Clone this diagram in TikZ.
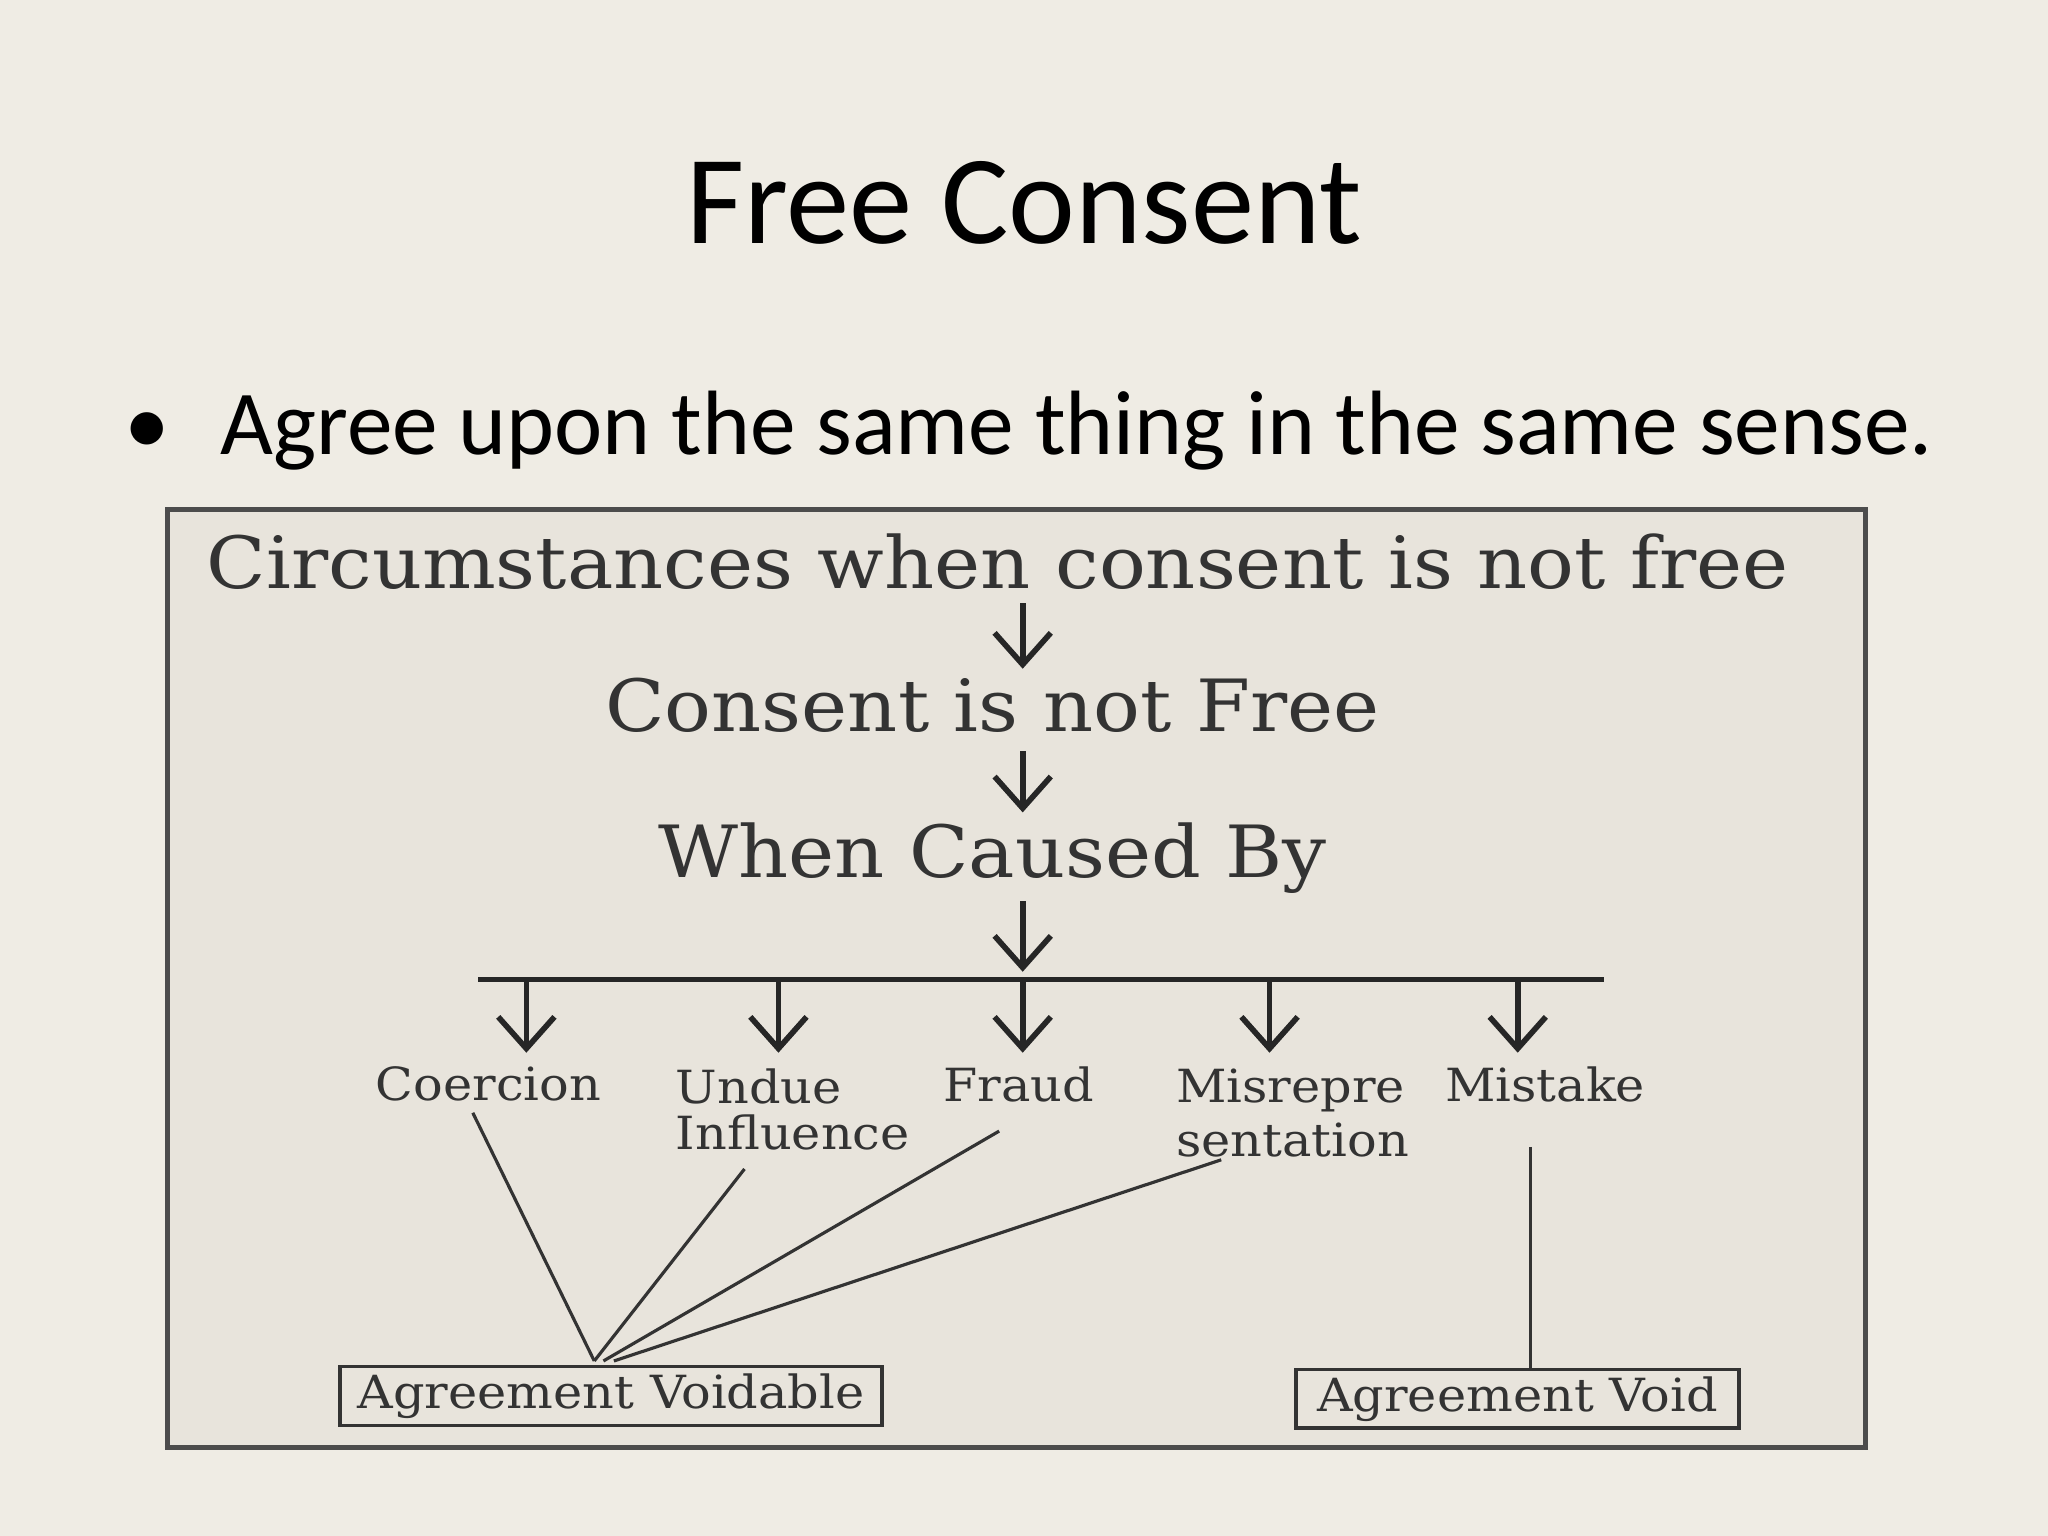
\documentclass[tikz,border=0pt]{standalone}
\usepackage{fontspec}
\setmainfont{DejaVu Serif}
\newfontfamily\slide{Carlito}
\usetikzlibrary{arrows.meta}
\newcommand{\wide}[1]{\scalebox{1.08}[1]{#1}}
\begin{document}
\begin{tikzpicture}[x=0.01306cm,y=-0.01306cm,
  arr/.style={draw=black!85,line width=1.6pt,-{Straight Barb[length=9pt,width=16pt,line width=1.6pt]}},
  ln/.style={draw=black!80,line width=0.9pt},
  lab/.style={font=\fontsize{13}{15}\selectfont,text=black!80,inner sep=0pt},
  big/.style={font=\fontsize{20.5}{24}\selectfont,text=black!80,inner sep=0pt},
  res/.style={draw=black!80,line width=1pt,font=\fontsize{13}{15}\selectfont,text=black!80,inner sep=2pt,minimum height=40*0.01306cm}]
\fill[fill={rgb,255:red,239;green,236;blue,228}] (0,0) rectangle (1568,1176);
\useasboundingbox (0,0) rectangle (1568,1176);
\node[font=\slide\fontsize{36}{40}\selectfont] (title) at (784,155) {Free Consent};
\node[font=\slide\fontsize{26}{30}\selectfont,anchor=west,inner sep=0pt] (bul) at (95,330) {\textbullet\hspace{0.55em}Agree upon the same thing in the same sense.};
\draw[fill={rgb,255:red,232;green,228;blue,220},draw=black!70,line width=1.5pt] (128,390) rectangle (1428,1108);
\node[big] (c1) at (764,430) {\wide{Circumstances when consent is not free}};
\node[big] (c2) at (760,540) {\wide{Consent is not Free}};
\node[big] (c3) at (760,657) {\wide{When Caused By}};
\draw[arr] (783,462) -- (783,512);
\draw[arr] (783,575) -- (783,622);
\draw[arr] (783,690) -- (783,744);
\coordinate (hl) at (366,750); \coordinate (hr) at (1228,750);
\draw[line width=1.4pt,black!85] (hl) -- (hr);
\foreach \x/\n in {403/a,596/b,783/c,972/d,1162/e}{
  \coordinate (t\n) at (\x,750);
  \draw[arr] (t\n) -- (\x,806);}
\node[lab] (co) at (374,830) {\wide{Coercion}};
\node[lab,anchor=north west] (ui) at (517,818) {\wide{\shortstack[l]{Undue\\Influence}}};
\node[lab] (fr) at (780,830) {\wide{Fraud}};
\node[lab,anchor=north west] (mi) at (900,818) {\wide{\shortstack[l]{Misrepre\\sentation}}};
\node[lab] (mk) at (1183,830) {\wide{Mistake}};
\node[res,anchor=north west,minimum width=415*0.01306cm] (av) at (259,1045) {\wide{Agreement Voidable}};
\node[res,anchor=north west,minimum width=339*0.01306cm] (ad) at (991,1047) {\wide{Agreement Void}};
\coordinate (j) at (455,1042);
\coordinate (p1) at (362,852); \coordinate (p2) at (570,895);
\coordinate (p3) at (765,866); \coordinate (p4) at (935,888);
\draw[ln] (p1) -- (j); \draw[ln] (p2) -- (j);
\draw[ln] (p3) -- (462,1042); \draw[ln] (p4) -- (470,1042);
\coordinate (m1) at (1172,878);
\draw[ln] (m1) -- (ad.north -| m1);
\end{tikzpicture}
\end{document}
